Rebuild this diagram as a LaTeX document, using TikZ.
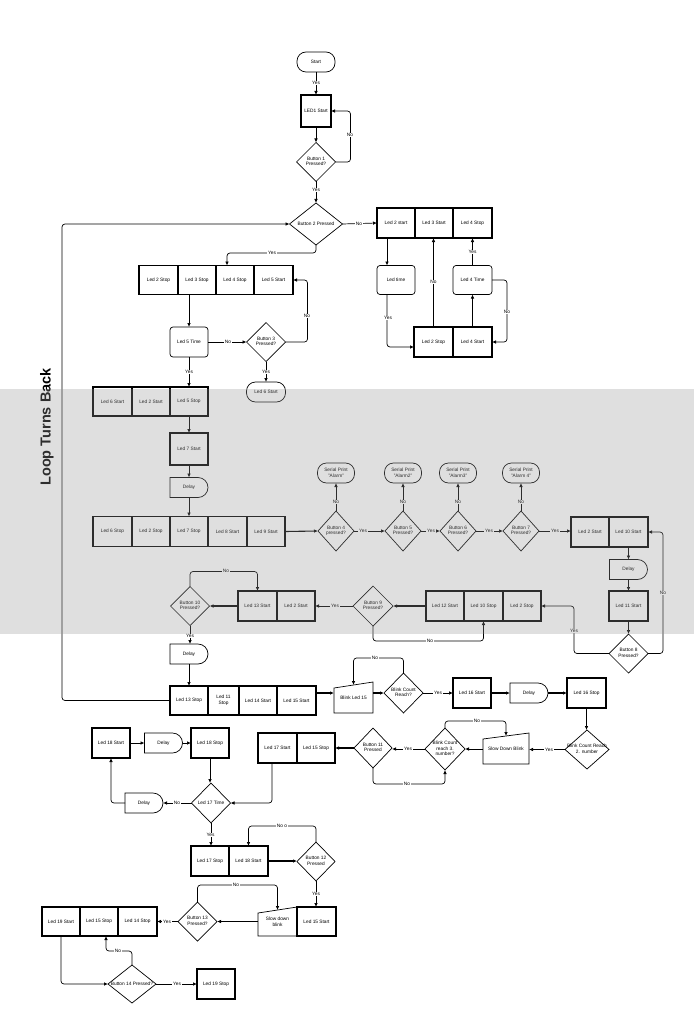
\documentclass[tikz,border=0pt]{standalone}
\usepackage{fontspec}
\setmainfont{Liberation Sans}
\usetikzlibrary{shapes.geometric,arrows.meta}
\newcommand{\dtx}[1]{\makebox[0pt]{\begin{tabular}{@{}c@{}}#1\end{tabular}}}
\newcommand{\delaynode}[2]{\node[dbox] (#1) at (#2) {Delay};
  \draw[line width=0.7pt] (#1.north west) -- ([xshift=-10pt]#1.north east) arc[start angle=90,end angle=-90,radius=10pt] -- (#1.south west) -- cycle;}
\newcommand{\manualnode}[5]{\node[minimum width=#3, minimum height=#4, align=center, inner sep=0pt] (#1) at (#2) {#5};
  \draw[line width=0.7pt] (#1.south west) -- ([yshift=-6pt]#1.north west) -- (#1.north east) -- (#1.south east) -- cycle;}
\begin{document}
\begin{tikzpicture}[x=1pt,y=1pt,
 every node/.style={font=\fontsize{4.8}{5.6}\selectfont, inner sep=1pt, outer sep=0pt},
 box/.style={draw, line width=1.2pt, minimum width=38, minimum height=30, align=center},
 rbox/.style={draw, line width=0.7pt, rounded corners=3pt, minimum width=38, minimum height=29, align=center},
 term/.style={draw, line width=0.7pt, rounded corners=9pt, minimum width=38, minimum height=20, align=center},
 dia/.style={draw, diamond, line width=0.7pt, inner sep=0pt},
 dbox/.style={minimum width=38, minimum height=20, inner sep=0pt},
 arr/.style={draw, line width=0.7pt, rounded corners=3pt, -{Latex[length=4pt,width=3.5pt]}},
 arrb/.style={arr, line width=1.1pt},
 lbl/.style={fill=white, inner sep=0.8pt},
]
\fill[white] (0,0) rectangle (694,-1024);
\useasboundingbox (0,0) rectangle (694,-1024);

% ---- top
\node[term] (start) at (316,-62) {Start};
\node[box, minimum width=30, minimum height=32] (led1) at (316,-111) {LED1 Start};
\node[dia, minimum width=39, minimum height=39] (b1) at (316,-162) {\dtx{Button 1\\Pressed?}};
\node[dia, minimum width=53, minimum height=42] (b2) at (316,-224) {\dtx{Button 2 Pressed}};
\draw[arr] (start.south) -- (led1.north);
\draw[arr] (led1.south) -- (b1.north);
\draw[arr] (b1.east) -- ++(15,0) |- (led1.east);
\draw[arr] (b1.south) -- (b2.north);
\node[lbl] (ya) at (316,-83) {Yes};
\node[lbl] (na) at (350,-135) {No};
\node[lbl] (yb) at (316,-190) {Yes};

% ---- top right
\node[box] (t1) at (396,-223) {Led 2 start};
\node[box] (t2) at (434,-223) {Led 3 Start};
\node[box, minimum width=39] (t3) at (472.5,-223) {Led 4 Stop};
\node[rbox] (ledtime) at (396,-280) {Led time};
\node[rbox, minimum width=39] (l4time) at (472.5,-280) {Led 4 Time};
\node[box, minimum width=39] (bs1) at (433.5,-342) {Led 2 Stop};
\node[box, minimum width=39] (bs2) at (472.5,-342) {Led 4 Start};
\draw[arr] (b2.east) -- (t1.west);
\draw[arr] ([xshift=-9pt]t1.south) -- ([xshift=-9pt]ledtime.north);
\draw[arr] ([xshift=-9pt]ledtime.south) |- ([yshift=-5pt]bs1.west);
\draw[arr] (bs1.north) -- (bs1.north |- t2.south);
\draw[arr] (bs2.north) -- (l4time.south);
\draw[arr] (l4time.north) -- (t3.south);
\draw[arr] (l4time.east) -- ++(15,0) |- (bs2.east);
\node[lbl] (nb) at (359,-224) {No};
\node[lbl] (yc) at (388,-318) {Yes};
\node[lbl] (nc) at (433.5,-282) {No};
\node[lbl] (yd) at (472.5,-252) {Yes};
\node[lbl] (nd) at (507,-312) {No};

% ---- left row 1
\node[box, minimum width=39, minimum height=29] (r1a) at (158.5,-280) {Led 2 Stop};
\node[box, minimum height=29] (r1b) at (197,-280) {Led 3 Stop};
\node[box, minimum height=29] (r1c) at (235,-280) {Led 4 Stop};
\node[box, minimum width=39, minimum height=29] (r1d) at (273.5,-280) {Led 5 Start};
\draw[arr] (b2.south) -- ++(0,-8) -| ([xshift=-8pt]r1c.north);
\node[lbl] (ye) at (272,-253) {Yes};
\node[rbox, minimum height=30] (l5time) at (189,-342) {Led 5 Time};
\draw[arr] ([xshift=-8pt]r1b.south) -- (l5time.north);
\node[dia, minimum width=39, minimum height=39] (b3) at (266,-342) {\dtx{Button 3\\Pressed?}};
\draw[arr] (l5time.east) -- (b3.west);
\draw[arr] (b3.east) -- ++(22,0) |- (r1d.east);
\node[term, minimum width=39] (led6s) at (266,-392) {Led 6 Start};
\draw[arr] (b3.south) -- (led6s.north);
\node[lbl] (ne) at (228,-342) {No};
\node[lbl] (nf) at (307,-316) {No};
\node[lbl] (yf) at (266,-372) {Yes};

% ---- row 2
\node[box, minimum width=39, minimum height=29] (r2a) at (112.5,-401.5) {Led 6 Start};
\node[box, minimum height=29] (r2b) at (151,-401.5) {Led 2 Start};
\node[box, minimum height=29] (r2c) at (189,-401.5) {Led 5 Stop};
\draw[arr] (l5time.south) -- (r2c.north);
\node[lbl] (yg) at (189,-372) {Yes};
\node[box, minimum height=32] (led7) at (189,-449) {Led 7 Start};
\draw[arr] (r2c.south) -- (led7.north);
\delaynode{d1}{189,-487.5}
\draw[arr] (led7.south) -- (d1.north);

% ---- row 3
\node[box, minimum width=39] (r3a) at (112.5,-531.5) {Led 6 Stop};
\node[box] (r3b) at (151,-531.5) {Led 2 Stop};
\node[box] (r3c) at (189,-531.5) {Led 7 Stop};
\node[box, minimum width=39] (r3d) at (227.5,-531.5) {Led 8 Start};
\node[box] (r3e) at (266,-531.5) {Led 9 Start};
\draw[arr] (d1.south) -- (r3c.north);

\node[dia, minimum width=36, minimum height=40] (b4) at (336,-531) {\dtx{Button 4\\pressed?}};
\node[dia, minimum width=36, minimum height=40] (b5) at (403,-531) {\dtx{Button 5\\Pressed?}};
\node[dia, minimum width=36, minimum height=40] (b6) at (458,-531) {\dtx{Button 6\\Pressed?}};
\node[dia, minimum width=36, minimum height=40] (b7) at (521,-531) {\dtx{Button 7\\Pressed?}};
\node[term, minimum width=37] (s4) at (336,-473) {Serial Print\\"Alarm"};
\node[term, minimum width=37] (s5) at (403,-473) {Serial Print\\"Alarm2"};
\node[term, minimum width=37] (s6) at (458,-473) {Serial Print\\"Alarm3"};
\node[term, minimum width=37] (s7) at (521,-473) {Serial Print\\"Alarm 4"};
\draw[arrb] (r3e.east) -- (b4.west);
\draw[arr] (b4.north) -- (s4.south);
\draw[arr] (b5.north) -- (s5.south);
\draw[arr] (b6.north) -- (s6.south);
\draw[arr] (b7.north) -- (s7.south);
\draw[arr] (b4.east) -- (b5.west);
\draw[arr] (b5.east) -- (b6.west);
\draw[arr] (b6.east) -- (b7.west);
\node[lbl] (ng) at (336,-502) {No};
\node[lbl] (nh) at (403,-502) {No};
\node[lbl] (ni) at (458,-502) {No};
\node[lbl] (nj) at (521,-502) {No};
\node[lbl] (yh) at (363,-531) {Yes};
\node[lbl] (yi) at (431,-531) {Yes};
\node[lbl] (yj) at (489,-531) {Yes};

% ---- right column
\node[box] (r4a) at (590,-532) {Led 2 Start};
\node[box, minimum width=39] (r4b) at (628.5,-532) {Led 10 Start};
\draw[arr] (b7.east) -- (r4a.west |- b7.east);
\node[lbl] (yk) at (555,-531) {Yes};
\delaynode{d2}{628.5,-569.5}
\node[box, minimum width=39] (led11) at (628.5,-606) {Led 11 Start};
\node[dia, minimum width=39, minimum height=39] (b8) at (628.5,-653.5) {\dtx{Button 8\\Pressed?}};
\draw[arr] (r4b.south) -- (d2.north);
\draw[arr] (d2.south) -- (led11.north);
\draw[arr] (led11.south) -- (b8.north);
\draw[arr] (b8.east) -- ++(15,0) |- (r4b.east);
\node[lbl] (nk) at (663,-593) {No};

% ---- row 5 / 6
\node[box] (r5a) at (445,-606) {Led 12 Start};
\node[box, minimum width=39] (r5b) at (483.5,-606) {Led 10 Stop};
\node[box] (r5c) at (522,-606) {Led 2 Stop};
\draw[arr] (b8.west) -- ++(-35,0) |- (r5c.east);
\node[lbl] (yl) at (574,-631) {Yes};
\node[dia, minimum width=40, minimum height=40] (b9) at (373,-606) {\dtx{Button 9\\Pressed?}};
\draw[arrb] (r5a.west) -- (b9.east);
\draw[arr] (b9.south) -- ++(0,-15) -| (r5b.south);
\node[lbl] (nl) at (430,-641) {No};
\node[box, minimum width=39] (r6a) at (257.5,-606) {Led 13 Start};
\node[box] (r6b) at (296,-606) {Led 2 Start};
\draw[arr] (b9.west) -- (r6b.east);
\node[lbl] (ym) at (335,-606) {Yes};
\node[dia, minimum width=39, minimum height=39] (b10) at (190,-606) {\dtx{Button 10\\Pressed?}};
\draw[arrb] (r6a.west) -- (b10.east);
\draw[arr] (b10.north) -- ++(0,15) -| (r6a.north);
\node[lbl] (nm) at (226,-571) {No};
\delaynode{d3}{189,-654}
\draw[arr] (b10.south) -- (b10.south |- d3.north);
\node[lbl] (yn) at (190,-636) {Yes};

% ---- row 7
\node[box, minimum height=29] (r7a) at (189,-700.5) {Led 13 Stop};
\node[box, minimum width=31, minimum height=29] (r7b) at (223.5,-700.5) {Led 11\\Stop};
\node[box, minimum height=29] (r7c) at (258,-700.5) {Led 14 Start};
\node[box, minimum width=39, minimum height=29] (r7d) at (296.5,-700.5) {Led 15 Start};
\draw[arr] (d3.south) -- (r7a.north);
\coordinate (lbb) at (62,-700.5);
\coordinate (lbt) at (62,-224);
\draw[arr] (r7a.west) -- (lbb) -- (lbt) -- (b2.west);
\node[rotate=90, font=\fontsize{14.5}{16}\selectfont\bfseries] (loopl) at (47,-427) {Loop Turns Back};

\manualnode{blink}{353.5,-697.5}{39}{31}{Blink Led 15}
\node[dia, minimum width=39, minimum height=40] (dbc) at (403.5,-693) {\dtx{Blink Count\\Reach?}};
\draw[arrb] (r7d.east |- dbc.west) -- (blink.west |- dbc.west);
\draw[arrb] (blink.east |- dbc.west) -- (dbc.west);
\draw[arr] (dbc.north) -- ++(0,15) -| ([yshift=-3pt]blink.north);
\node[lbl] (nn) at (375,-658) {No};
\node[box] (led16) at (472,-693) {Led 16 Start};
\draw[arr] (dbc.east) -- (led16.west);
\node[lbl] (yo) at (438,-693) {Yes};
\delaynode{d4}{529,-693}
\node[box, minimum width=39] (led16s) at (586.5,-693) {Led 16 Stop};
\draw[arrb] (led16.east) -- (d4.west);
\draw[arrb] (d4.east) -- (led16s.west);
\node[dia, minimum width=44, minimum height=39] (d2n) at (587,-749.5) {\dtx{Blink Count Reach\\2. number}};
\draw[arr] (led16s.south) -- (led16s.south |- d2n.north);
\manualnode{sdb}{506,-748.5}{46}{31}{Slow Down Blink}
\draw[arr] (d2n.west) -- (sdb.east |- d2n.west);
\node[lbl] (yp) at (549,-749.5) {Yes};
\node[dia, minimum width=40, minimum height=42] (d3n) at (445,-749) {\dtx{Blink Count\\reach 3.\\number?}};
\draw[arr] (sdb.west |- d3n.east) -- (d3n.east);
\draw[arr] (d3n.north) -- ++(0,7) -| ([yshift=-3pt]sdb.north);
\node[lbl] (no) at (477,-721) {No};
\node[dia, minimum width=38, minimum height=40] (b11) at (373,-748) {\dtx{Button 11\\Pressed}};
\draw[arr] (d3n.west) -- (b11.east |- d3n.west);
\node[lbl] (yq) at (408,-749) {Yes};
\draw[arr] (b11.south) -- ++(0,-16) -| (d3n.south);
\node[lbl] (np) at (407,-784) {No};

% ---- row 8 and loop
\node[box, minimum width=39] (r8a) at (277.5,-748) {Led 17 Start};
\node[box] (r8b) at (316,-748) {Led 15 Stop};
\draw[arrb] (b11.west) -- (r8b.east);
\node[dia, minimum width=39, minimum height=40] (d17) at (211,-803) {\dtx{Led 17 Time}};
\draw[arr] ([xshift=-5.5pt]r8a.south) |- (d17.east);
\delaynode{d5}{144,-803}
\draw[arr] (d17.west) -- (d5.east);
\node[lbl] (nq) at (177,-803) {No};
\node[box] (led18) at (111,-743) {Led 18 Start};
\draw[arr] (d5.west) -| (led18.south);
\delaynode{d6}{163.5,-743}
\node[box] (led18s) at (210,-743) {Led 18 Stop};
\draw[arr] (led18.east) -- (d6.west);
\draw[arr] (d6.east) -- (led18s.west);
\draw[arr] (led18s.south) -- (led18s.south |- d17.north);

% ---- row 9
\node[box] (r9a) at (210,-861) {Led 17 Stop};
\node[box, minimum width=39] (r9b) at (248.5,-861) {Led 18 Start};
\draw[arr] (d17.south) -- (d17.south |- r9a.north);
\node[lbl] (yr) at (210.5,-835) {Yes};
\node[dia, minimum width=38, minimum height=39] (b12) at (316,-861.5) {\dtx{Button 12\\Pressed}};
\draw[arrb] (r9b.east) -- (r9b.east -| b12.west);
\draw[arr] (b12.north) -- ++(0,16) -| (r9b.north);
\node[lbl] (nr) at (282,-826) {No o};
\node[box, minimum width=39, minimum height=29] (led15s) at (316.5,-921.5) {Led 15 Start};
\draw[arr] (b12.south) -- (b12.south |- led15s.north);
\node[lbl] (ys) at (316,-894) {Yes};
\manualnode{sdb2}{277.5,-921.5}{39}{29}{Slow down\\blink}
\node[dia, minimum width=39, minimum height=39] (b13) at (197.5,-921.5) {\dtx{Button 13\\Pressed?}};
\draw[arrb] (sdb2.west) -- (b13.east);
\draw[arr] (b13.north) -- ++(0,17) -| ([yshift=-3pt]sdb2.north);
\node[lbl] (ns) at (236,-885) {No};

% ---- row 10
\node[box, minimum height=29] (r10a) at (61,-921.5) {Led 19 Start};
\node[box, minimum height=29] (r10b) at (99,-921.5) {Led 15 Stop};
\node[box, minimum width=39, minimum height=29] (r10c) at (137.5,-921.5) {Led 14 Stop};
\draw[arr] (b13.west) -- (r10c.east);
\node[lbl] (yt) at (167,-921.5) {Yes};
\node[dia, minimum width=48, minimum height=38] (b14) at (132,-984) {\dtx{Button 14 Pressed?}};
\draw[arr] (r10a.south) |- (b14.west);
\draw[arr] (b14.north) -- ++(0,14) -| ([xshift=7pt]r10b.south);
\node[lbl] (nt) at (118,-951) {No};
\node[box] (led19s) at (216,-984) {Led 19 Stop};
\draw[arr] (b14.east) -- (led19s.west);
\node[lbl] (yu) at (177,-984) {Yes};

% ---- grey band
\fill[fill={rgb,255:red,150;green,150;blue,150}, fill opacity=0.3] (0,-389) rectangle (694,-634);
\end{tikzpicture}
\end{document}
